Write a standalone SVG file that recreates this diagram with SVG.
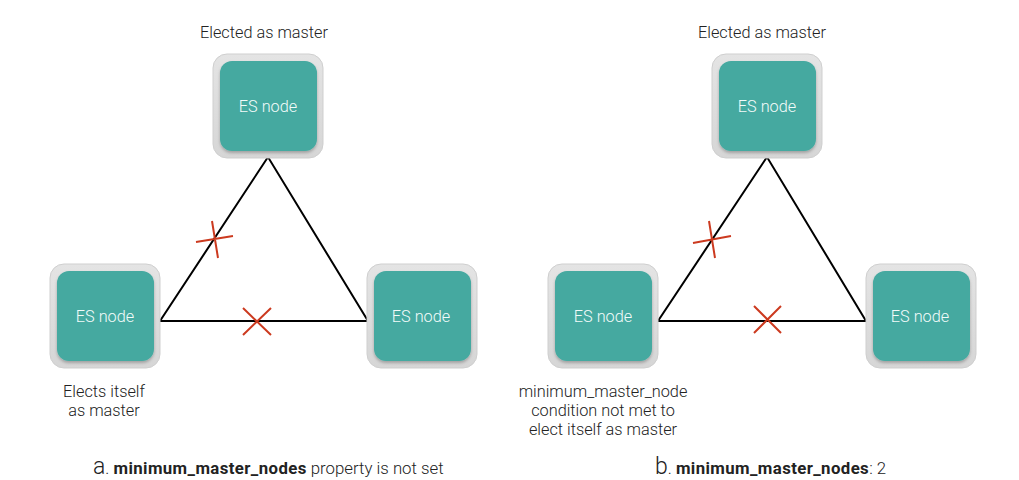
<svg xmlns="http://www.w3.org/2000/svg" width="1019" height="480" viewBox="0 0 1019 480">
<defs>
<filter id="sh" x="-20%" y="-20%" width="140%" height="140%">
<feDropShadow dx="0" dy="2" stdDeviation="1.5" flood-color="#000" flood-opacity="0.25"/>
</filter>
<linearGradient id="frame" x1="0" y1="0" x2="0" y2="1">
<stop offset="0" stop-color="#e4e4e4"/>
<stop offset="1" stop-color="#d6d6d6"/>
</linearGradient>
</defs>
<style>
.frame{fill:url(#frame);stroke:#cfcfcf;stroke-width:1}
.tile{fill:#44a9a0}
.lbl{font-family:Roboto,"Liberation Sans",sans-serif;font-weight:300;font-size:16.3px;fill:#f2fbfa;text-anchor:middle}
.txt{font-family:Roboto,"Liberation Sans",sans-serif;font-weight:300;font-size:16.3px;fill:#222;text-anchor:middle}
.cap{font-family:Roboto,"Liberation Sans",sans-serif;font-weight:300;font-size:16.8px;fill:#222}
.b{font-weight:700;letter-spacing:0.4px}
.edge{stroke:#000;stroke-width:2;fill:none}
.x{stroke:#cc3a1f;stroke-width:2;fill:none}
</style>
<rect width="1019" height="480" fill="#fff"/>

<g id="connectors">
<path class="edge" d="M268,157 L160,321 L368,321 Z"/>
<path class="edge" d="M767,157 L658,321 L866,321 Z"/>
<path class="x" d="M196,242 L233,236 M212,221 L218,258 M243,308 L271,335 M271,308 L243,335"/>
<path class="x" d="M693,243 L731,236 M709,221 L715,258 M754,306 L781,333 M781,306 L754,333"/>
</g>

<g id="a-top">
<rect class="frame" x="213" y="54" width="110" height="104" rx="14"/>
<rect class="tile" x="220" y="61" width="97" height="90" rx="12" filter="url(#sh)"/>
<text class="lbl" x="268" y="112">ES node</text>
</g>
<g id="a-left">
<rect class="frame" x="50" y="264" width="110" height="104" rx="14"/>
<rect class="tile" x="57" y="271" width="97" height="90" rx="12" filter="url(#sh)"/>
<text class="lbl" x="105" y="322">ES node</text>
</g>
<g id="a-right">
<rect class="frame" x="367" y="264" width="110" height="104" rx="14"/>
<rect class="tile" x="374" y="271" width="97" height="90" rx="12" filter="url(#sh)"/>
<text class="lbl" x="421" y="322">ES node</text>
</g>

<g id="b-top">
<rect class="frame" x="712" y="54" width="110" height="104" rx="14"/>
<rect class="tile" x="719" y="61" width="97" height="90" rx="12" filter="url(#sh)"/>
<text class="lbl" x="767" y="112">ES node</text>
</g>
<g id="b-left">
<rect class="frame" x="548" y="264" width="110" height="104" rx="14"/>
<rect class="tile" x="555" y="271" width="97" height="90" rx="12" filter="url(#sh)"/>
<text class="lbl" x="603" y="322">ES node</text>
</g>
<g id="b-right">
<rect class="frame" x="866" y="264" width="110" height="104" rx="14"/>
<rect class="tile" x="873" y="271" width="97" height="90" rx="12" filter="url(#sh)"/>
<text class="lbl" x="920" y="322">ES node</text>
</g>

<g id="labels">
<text class="txt" x="264" y="38">Elected as master</text>
<text class="txt" x="762" y="38">Elected as master</text>
<text class="txt" x="104" y="397">Elects itself</text>
<text class="txt" x="104" y="416">as master</text>
<text class="txt" x="603" y="397">minimum_master_node</text>
<text class="txt" x="603" y="416">condition not met to</text>
<text class="txt" x="603" y="435">elect itself as master</text>
<text class="cap" x="93" y="474"><tspan font-size="23">a</tspan>. <tspan class="b">minimum_master_nodes</tspan> property is not set</text>
<text class="cap" x="655" y="474"><tspan font-size="23">b</tspan>. <tspan class="b">minimum_master_nodes</tspan>: 2</text>
</g>
</svg>
